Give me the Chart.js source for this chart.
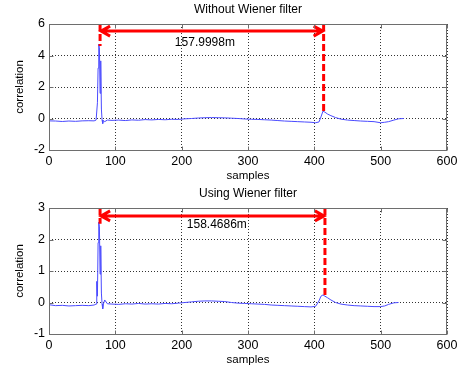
<!DOCTYPE html>
<html>
<head>
<meta charset="utf-8">
<script src="https://cdn.jsdelivr.net/npm/chart.js@4"></script>
<style>
  html, body { margin: 0; padding: 0; background: #fff; }
  #wrap { position: relative; width: 474px; height: 368px; }
  canvas { position: absolute; left: 0; }
</style>
</head>
<body>
<div id="wrap">
  <canvas id="topChart" width="474" height="184" style="top:0"></canvas>
  <canvas id="bottomChart" width="474" height="184" style="top:184px"></canvas>
</div>
<script>
// Without Wiener filter
const topSamples = [0, 10, 20, 30, 40, 50, 60, 68, 71, 73, 74, 75, 76, 77, 78, 79, 80, 81, 82, 84, 88,
  95, 105, 115, 125, 135, 145, 155, 165, 175, 185, 195, 205, 215, 225, 235, 245, 255, 265, 275,
  285, 295, 305, 315, 325, 335, 345, 355, 365, 375, 385, 395, 402, 407, 410, 413, 416, 420, 425,
  432, 440, 450, 460, 470, 480, 490, 500, 506, 512, 520, 527, 535];
const topValues = [-0.15, -0.16, -0.19, -0.16, -0.18, -0.15, -0.14, -0.15, -0.1, 1.0, 3.2, 4.72, 4.5, 1.6, 3.66, 0.6, -0.1, -0.32, -0.12, -0.2, -0.1,
  -0.12, -0.1, -0.13, -0.09, -0.11, -0.07, -0.09, -0.06, -0.08, -0.05, -0.06, -0.02, 0.0, 0.03, 0.05, 0.06, 0.05, 0.04, 0.02,
  0.0, -0.03, -0.05, -0.06, -0.08, -0.1, -0.13, -0.16, -0.18, -0.2, -0.22, -0.24, -0.27, -0.22, 0.1, 0.47, 0.4, 0.28, 0.18,
  0.06, -0.04, -0.1, -0.13, -0.16, -0.18, -0.2, -0.27, -0.24, -0.2, -0.1, -0.02, 0.0];

// Using Wiener filter
const bottomSamples = [0, 10, 20, 30, 40, 50, 60, 68, 71, 72, 73, 74, 75, 76, 77, 78, 79, 80, 81, 82, 84, 88,
  95, 105, 115, 125, 135, 145, 155, 165, 175, 185, 195, 205, 215, 225, 235, 245, 255, 265, 275,
  285, 295, 305, 315, 325, 335, 345, 355, 365, 375, 385, 395, 402, 407, 410, 413, 416, 420, 425,
  432, 440, 450, 460, 470, 480, 490, 500, 506, 512, 520, 527, 535];
const bottomValues = [-0.07, -0.1, -0.09, -0.11, -0.1, -0.09, -0.1, -0.08, -0.05, 0.67, 0.2, 1.9, 2.55, 2.4, 0.9, 1.8, 0.3, -0.05, -0.2, -0.05, 0.08, -0.04,
  -0.05, -0.06, -0.04, -0.05, -0.03, -0.05, -0.04, -0.05, -0.03, -0.04, -0.02, 0.0, 0.02, 0.04, 0.05, 0.05, 0.04, 0.03,
  0.0, -0.02, -0.03, -0.04, -0.05, -0.06, -0.08, -0.09, -0.1, -0.11, -0.12, -0.13, -0.14, -0.12, 0.05, 0.2, 0.24, 0.2, 0.15,
  0.08, 0.0, -0.05, -0.08, -0.1, -0.11, -0.12, -0.13, -0.13, -0.11, -0.06, -0.01, 0.0];

// marker lines [start, end] in samples, and where the dashed lines stop
const topMarkers = [77, 414];
const topMarkerEnds = [4.6, 0.35];
const bottomMarkers = [77, 416];
const bottomMarkerEnds = [2.5, 0.15];

const topArrowY = 5.55;
const bottomArrowY = 2.75;
const topLabel = { text: '157.9998m', x: 235, y: 4.8 };
const bottomLabel = { text: '158.4686m', x: 253, y: 2.47 };

const xTicks = [0, 100, 200, 300, 400, 500, 600];
const FONT = "'Liberation Sans', Arial, sans-serif";

// title, frame, inward ticks, dashed markers, arrow and distance text
const overlayPlugin = {
    id: 'overlay',
    afterDatasetsDraw(chart, args, opts) {
        const { ctx, chartArea, scales } = chart;
        const x = scales.x, y = scales.y;
        ctx.save();

        // dashed red markers
        ctx.strokeStyle = '#ff0000';
        ctx.lineWidth = 3;
        ctx.setLineDash([7, 3]);
        opts.markers.forEach((m, i) => {
            const px = x.getPixelForValue(m);
            ctx.beginPath();
            ctx.moveTo(px, chartArea.top);
            ctx.lineTo(px, y.getPixelForValue(opts.markerEnds[i]));
            ctx.stroke();
        });

        // double arrow
        ctx.setLineDash([]);
        const ay = y.getPixelForValue(opts.arrowY);
        const x1 = x.getPixelForValue(opts.markers[0]) + 1;
        const x2 = x.getPixelForValue(opts.markers[1]) - 1;
        ctx.beginPath();
        ctx.moveTo(x1, ay);
        ctx.lineTo(x2, ay);
        ctx.moveTo(x1 + 9, ay - 5);
        ctx.lineTo(x1, ay);
        ctx.lineTo(x1 + 9, ay + 5);
        ctx.moveTo(x2 - 9, ay - 5);
        ctx.lineTo(x2, ay);
        ctx.lineTo(x2 - 9, ay + 5);
        ctx.stroke();

        // distance label
        ctx.fillStyle = '#000';
        ctx.font = '12px ' + FONT;
        ctx.textAlign = 'center';
        ctx.textBaseline = 'middle';
        ctx.fillText(opts.label.text, x.getPixelForValue(opts.label.x), y.getPixelForValue(opts.label.y));

        // title centred over the axes
        ctx.font = '12px ' + FONT;
        ctx.fillText(opts.title, (chartArea.left + chartArea.right) / 2, chartArea.top - 14);

        // axes box with inward ticks
        const L = Math.round(chartArea.left) + 0.5, T = Math.round(chartArea.top) + 0.5;
        const R = Math.round(chartArea.right) - 0.5, B = Math.round(chartArea.bottom) + 0.5;
        ctx.strokeStyle = '#6e6e6e';
        ctx.lineWidth = 1;
        ctx.strokeRect(L, T, R - L, B - T);
        ctx.beginPath();
        x.ticks.forEach(t => {
            const px = Math.round(x.getPixelForValue(t.value)) + 0.5;
            ctx.moveTo(px, B); ctx.lineTo(px, B - 4);
            ctx.moveTo(px, T); ctx.lineTo(px, T + 4);
        });
        y.ticks.forEach(t => {
            const py = Math.round(y.getPixelForValue(t.value)) + 0.5;
            ctx.moveTo(L, py); ctx.lineTo(L + 4, py);
            ctx.moveTo(R, py); ctx.lineTo(R - 4, py);
        });
        ctx.stroke();
        ctx.restore();
    }
};

function makeChart(id, title, xs, ys, yMin, yMax, yStep, overlay) {
    overlay.title = title;
    return new Chart(document.getElementById(id), {
        type: 'line',
        data: {
            datasets: [{
                data: xs.map((s, i) => ({ x: s, y: ys[i] })),
                borderColor: '#4a4aff',
                borderWidth: 1,
                pointRadius: 0,
                tension: 0
            }]
        },
        options: {
            responsive: false,
            animation: false,
            layout: { padding: { left: 0, right: 27, top: 24, bottom: 0 } },
            plugins: {
                legend: { display: false },
                tooltip: { enabled: false },
                title: { display: false },
                overlay: overlay
            },
            scales: {
                x: {
                    type: 'linear',
                    min: 0,
                    max: 600,
                    afterBuildTicks: (scale) => { scale.ticks = xTicks.map(v => ({ value: v })); },
                    afterFit: (scale) => { scale.height = 34; },
                    ticks: {
                        color: '#000',
                        font: { family: FONT, size: 12.5 },
                        padding: 4,
                        maxRotation: 0,
                        autoSkip: false
                    },
                    grid: { color: 'rgba(0,0,0,0.8)', drawTicks: false },
                    border: { display: false, dash: [1, 2] },
                    title: {
                        display: true,
                        text: 'samples',
                        color: '#000',
                        font: { family: FONT, size: 11.5 },
                        padding: { top: 0, bottom: 1.2 }
                    }
                },
                y: {
                    min: yMin,
                    max: yMax,
                    afterFit: (scale) => { scale.width = 49; },
                    ticks: {
                        stepSize: yStep,
                        color: '#000',
                        font: { family: FONT, size: 12.5 },
                        padding: 4
                    },
                    grid: { color: 'rgba(0,0,0,0.8)', drawTicks: false },
                    border: { display: false, dash: [1, 2] },
                    title: {
                        display: true,
                        text: 'correlation',
                        color: '#000',
                        font: { family: FONT, size: 11.5 },
                        padding: { top: 13, bottom: 0 }
                    }
                }
            }
        },
        plugins: [overlayPlugin]
    });
}

makeChart('topChart', 'Without Wiener filter', topSamples, topValues, -2, 6, 2, {
    markers: topMarkers, markerEnds: topMarkerEnds, arrowY: topArrowY, label: topLabel
});
makeChart('bottomChart', 'Using Wiener filter', bottomSamples, bottomValues, -1, 3, 1, {
    markers: bottomMarkers, markerEnds: bottomMarkerEnds, arrowY: bottomArrowY, label: bottomLabel
});
</script>
</body>
</html>
